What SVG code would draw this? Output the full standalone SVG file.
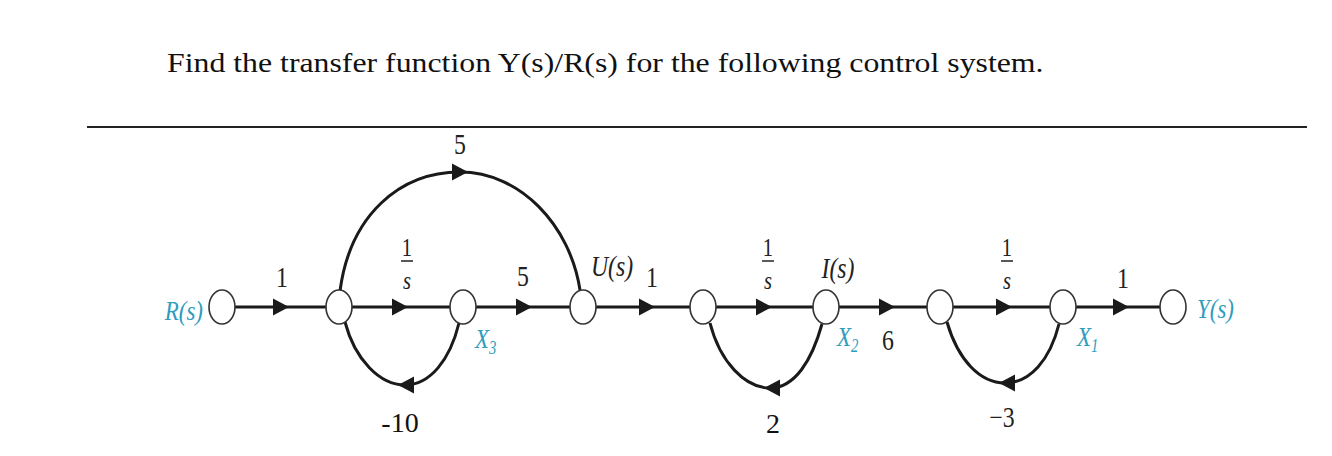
<svg xmlns="http://www.w3.org/2000/svg" width="1332" height="456" viewBox="0 0 1332 456">
<style>
.title{font-family:"Liberation Serif","Times New Roman",serif;font-size:26.5px;fill:#111}
.typed{font-family:"Liberation Serif","Times New Roman",serif;font-size:28px;fill:#111;text-anchor:middle}
.lbl{font-family:"Liberation Serif","Times New Roman",serif;font-size:29px;fill:#222;text-anchor:middle}
.frac{font-family:"Liberation Serif","Times New Roman",serif;font-size:25px;fill:#222;text-anchor:middle}
.it{font-style:italic}
.teal{font-family:"Liberation Serif","Times New Roman",serif;font-size:28px;font-style:italic;fill:#2f9dbd}
.node{fill:#fff;stroke:#333;stroke-width:1.6}
.edge{fill:none;stroke:#1a1a1a;stroke-width:3}
.bar{stroke:#222;stroke-width:1.5}
.sep{stroke:#222;stroke-width:1.8}
</style>
<defs>
<path id="ah" d="M0,0 L-16,-8.5 L-16,8.5 Z" fill="#1a1a1a"/>
</defs>
<rect width="1332" height="456" fill="#fff"/>
<text class="title" transform="translate(167,72) scale(1.2,1)">Find the transfer function Y(s)/R(s) for the following control system.</text>
<line class="sep" x1="87" y1="127" x2="1307" y2="127"/>

<g id="connectors">
<path class="edge" d="M222,307 H1173"/>
<path class="edge" d="M340,291 C350,215 400,172 460,172 C520,172 570,225 580,290"/>
<path class="edge" d="M459,323 C450,360 430,385 405,385 C380,385 355,360 345,322"/>
<path class="edge" d="M822,324 C812,360 795,388 770,388 C745,388 720,362 710,323"/>
<path class="edge" d="M1059,324 C1050,360 1030,383 1005,383 C980,383 958,360 947,322"/>
<use href="#ah" transform="translate(289,307)"/>
<use href="#ah" transform="translate(408,307)"/>
<use href="#ah" transform="translate(532,307)"/>
<use href="#ah" transform="translate(655,307)"/>
<use href="#ah" transform="translate(772,307)"/>
<use href="#ah" transform="translate(895,307)"/>
<use href="#ah" transform="translate(1012,307)"/>
<use href="#ah" transform="translate(1129,307)"/>
<use href="#ah" transform="translate(468,172)"/>
<use href="#ah" transform="translate(398,385) rotate(180)"/>
<use href="#ah" transform="translate(764,388) rotate(180)"/>
<use href="#ah" transform="translate(999,383) rotate(180)"/>
</g>

<g id="edge-labels">
<text class="lbl" transform="translate(460,154) scale(0.82,1)">5</text>
<text class="lbl" transform="translate(282,287) scale(0.82,1)">1</text>
<text class="frac" transform="translate(407,256) scale(0.82,1)">1</text>
<line class="bar" x1="401" y1="261" x2="413" y2="261"/>
<text class="frac it" transform="translate(407,289) scale(0.82,1)">s</text>
<text class="lbl" transform="translate(523,286) scale(0.82,1)">5</text>
<text class="lbl" transform="translate(652,287) scale(0.82,1)">1</text>
<text class="frac" transform="translate(768,256) scale(0.82,1)">1</text>
<line class="bar" x1="762" y1="261" x2="774" y2="261"/>
<text class="frac it" transform="translate(768,289) scale(0.82,1)">s</text>
<text class="lbl" transform="translate(888,350) scale(0.82,1)">6</text>
<text class="frac" transform="translate(1007,256) scale(0.82,1)">1</text>
<line class="bar" x1="1001" y1="261" x2="1013" y2="261"/>
<text class="frac it" transform="translate(1007,289) scale(0.82,1)">s</text>
<text class="lbl" transform="translate(1123,288) scale(0.82,1)">1</text>
<text class="typed" x="400" y="432">-10</text>
<text class="typed" x="773" y="433">2</text>
<text class="lbl" transform="translate(1002,427) scale(0.82,1)">−3</text>
</g>

<g id="node-R"><ellipse class="node" cx="222" cy="307" rx="13" ry="17"/>
<text class="teal" text-anchor="end" transform="translate(203,320) scale(0.82,1)">R(s)</text></g>
<g id="node-2"><ellipse class="node" cx="339" cy="307" rx="13" ry="17"/></g>
<g id="node-X3"><ellipse class="node" cx="463" cy="307" rx="13" ry="17"/>
<text class="teal" transform="translate(475,348) scale(0.82,1)">X<tspan font-size="18" dy="6">3</tspan></text></g>
<g id="node-U"><ellipse class="node" cx="583" cy="307" rx="13" ry="17"/>
<text class="lbl it" transform="translate(612,276) scale(0.82,1)">U(s)</text></g>
<g id="node-5"><ellipse class="node" cx="703" cy="307" rx="13" ry="17"/></g>
<g id="node-I"><ellipse class="node" cx="826" cy="307" rx="13" ry="17"/>
<text class="lbl it" transform="translate(838,278) scale(0.82,1)">I(s)</text></g>
<g id="node-7"><ellipse class="node" cx="940" cy="307" rx="13" ry="17"/></g>
<g id="node-X1"><ellipse class="node" cx="1063" cy="307" rx="13" ry="17"/>
<text class="teal" transform="translate(1077,346) scale(0.82,1)">X<tspan font-size="18" dy="6">1</tspan></text></g>
<g id="node-X2"><text class="teal" transform="translate(837,346) scale(0.82,1)">X<tspan font-size="18" dy="6">2</tspan></text></g>
<g id="node-Y"><ellipse class="node" cx="1173" cy="307" rx="13" ry="17"/>
<text class="teal" transform="translate(1197,318) scale(0.82,1)">Y(s)</text></g>
</svg>
